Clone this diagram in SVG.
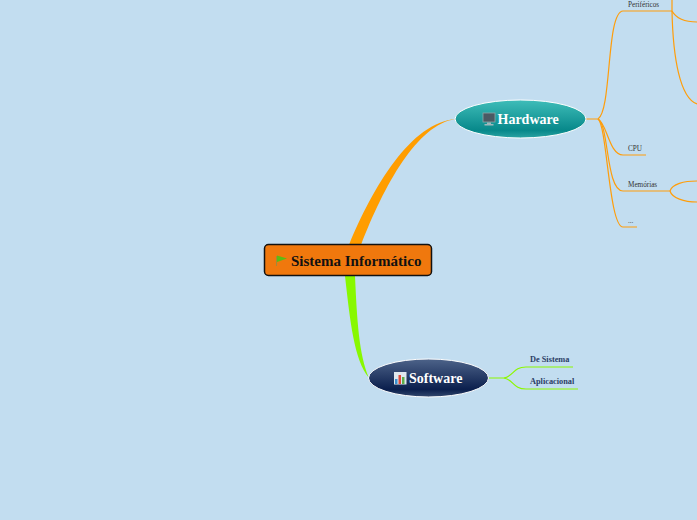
<svg xmlns="http://www.w3.org/2000/svg" width="697" height="520" viewBox="0 0 697 520">
<defs>
<linearGradient id="teal" x1="0" y1="0" x2="0" y2="1"><stop offset="0" stop-color="#3fbdb9"/><stop offset="0.8" stop-color="#07888a"/><stop offset="1" stop-color="#2ba3a3"/></linearGradient>
<linearGradient id="navy" x1="0" y1="0" x2="0" y2="1"><stop offset="0" stop-color="#4d6389"/><stop offset="0.8" stop-color="#0b1f4d"/><stop offset="1" stop-color="#33496f"/></linearGradient>
</defs>
<style>
.o{fill:none;stroke:#ff9d0a;stroke-width:1.200}
.g{fill:none;stroke:#8cf800;stroke-width:1.200}
.t{font-family:"Liberation Serif",serif}
.s{font-size:7.200px;fill:#333}
.b{font-size:8.300px;font-weight:bold;fill:#2c3e66}
.m{font-size:14px;font-weight:bold;fill:#fff}
</style>
<rect width="697" height="520" fill="#c2ddf0"/>
<g id="connectors">
<path d="M349 245C373 187 411 122 456 119C417 124 384 186 361 245Z" fill="#ff9d00"/>
<path d="M345 276C350 320 354 360 369 378C359 355 357 320 355 276Z" fill="#88f800"/>
<path class="o" d="M586 119H598C612 110 606 12 623 11H672"/>
<path class="o" d="M598 119C607 123 609 155 623 155H646"/>
<path class="o" d="M598 119C609 125 606 191 623 191H670"/>
<path class="o" d="M598 119C607 125 609 227 623 227H637"/>
<path class="o" d="M672 0V11C673 58 680 98 697 104"/>
<path class="o" d="M672 11C676 18 685 22 697 22"/>
<path class="o" d="M670 191C672 184 684 181 697 181"/>
<path class="o" d="M670 191C672 198 684 202 697 202"/>
<path class="g" d="M488 378H504C514 376 513 367 526 367H573"/>
<path class="g" d="M504 378C514 380 513 389 526 389H578"/>
</g>
<g id="root">
<rect x="264.500" y="244.500" width="167" height="31" rx="4" fill="#f0780d" stroke="#111" stroke-width="1.500"/>
<path d="M276.500 256V266" stroke="#a08a3a" stroke-width="1"/>
<path d="M277 255.500L287 258.500L277 262Z" fill="#5cbc12"/>
<text class="t" x="291" y="266" font-size="15" font-weight="bold" fill="#111">Sistema Informático</text>
</g>
<g id="hardware">
<ellipse cx="520.500" cy="119" rx="65.500" ry="19" fill="url(#teal)" stroke="#fff" stroke-width="1"/>
<rect x="483" y="113" width="12" height="9" fill="#4a5a63" stroke="#8fa5a8" stroke-width="0.800"/>
<path d="M487 122.500h4v1.500h-4zM484.500 124h9v1.500h-9z" fill="#9fb8bb"/>
<text class="t m" x="497.500" y="124">Hardware</text>
</g>
<g id="software">
<ellipse cx="428.500" cy="378" rx="60" ry="19" fill="url(#navy)" stroke="#fff" stroke-width="1"/>
<rect x="394" y="372" width="12.500" height="12.500" fill="#dfe8ee"/>
<rect x="395" y="379" width="2.500" height="5" fill="#3a8fd0"/>
<rect x="398.500" y="375" width="2.500" height="9" fill="#e04a3a"/>
<rect x="402" y="377" width="2.500" height="7" fill="#5cae4a"/>
<text class="t m" x="409" y="383">Software</text>
</g>
<g id="perifericos"><text class="t s" x="628" y="7">Periféricos</text></g>
<g id="cpu"><text class="t s" x="628" y="151">CPU</text></g>
<g id="memorias"><text class="t s" x="628" y="187">Memórias</text></g>
<g id="dots"><text class="t s" x="628" y="223">...</text></g>
<g id="desistema"><text class="t b" x="530" y="362">De Sistema</text></g>
<g id="aplicacional"><text class="t b" x="530" y="384">Aplicacional</text></g>
</svg>
